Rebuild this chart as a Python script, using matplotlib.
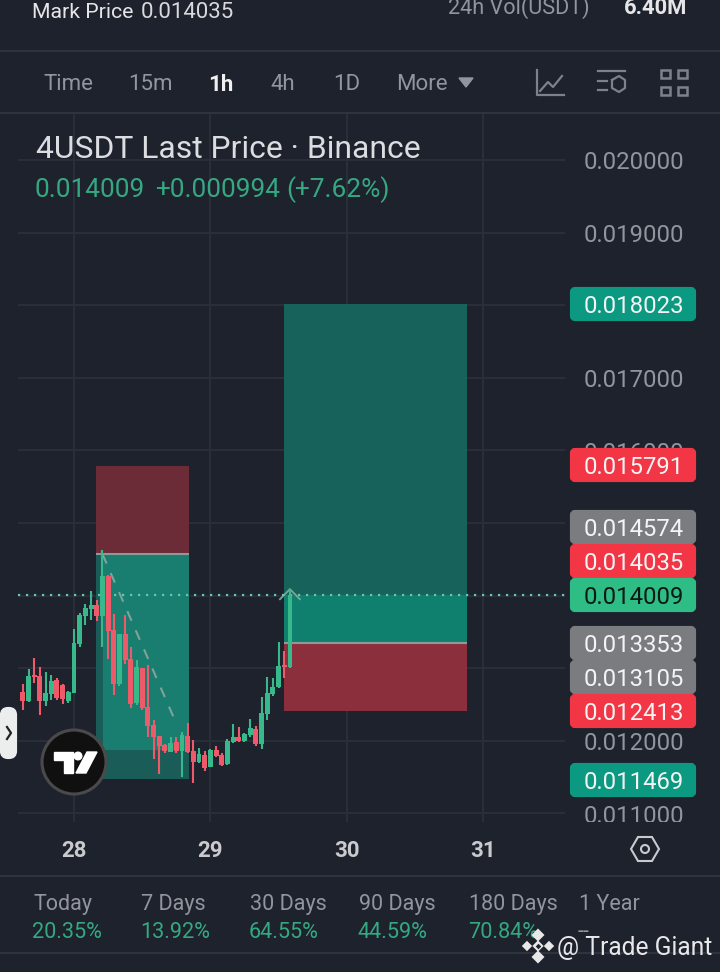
import numpy as np
from matplotlib import pyplot as plt
from matplotlib.patches import Rectangle, FancyBboxPatch, Circle, Polygon

plt.rcParams['font.family'] = ['Roboto', 'DejaVu Sans']

# hourly candles, first one is 9 hours before the 28th
opens = [0.012677, 0.012553, 0.012906, 0.012892, 0.012548, 0.012644, 0.012837, 0.012768,
         0.012553, 0.012663, 0.013333, 0.013719, 0.013815, 0.013871, 0.013719, 0.014270,
         0.013526, 0.012782, 0.013471, 0.013122, 0.012516, 0.012998, 0.012461, 0.012217,
         0.012066, 0.011942, 0.011850, 0.011979, 0.011864, 0.012070, 0.011859, 0.011712,
         0.011804, 0.011643, 0.011873, 0.011804, 0.011680, 0.011988, 0.012057, 0.012002,
         0.012080, 0.012167, 0.011956, 0.012369, 0.012644, 0.012736, 0.013044, 0.013012]
closes = [0.012553, 0.012892, 0.012883, 0.012548, 0.012654, 0.012828, 0.012585, 0.012571,
          0.012667, 0.013342, 0.013733, 0.013825, 0.013866, 0.013719, 0.014270, 0.013517,
          0.012782, 0.013471, 0.013113, 0.012507, 0.013012, 0.012456, 0.012204, 0.012057,
          0.011928, 0.011859, 0.011974, 0.011859, 0.012080, 0.011850, 0.011712, 0.011813,
          0.011620, 0.011873, 0.011790, 0.011666, 0.012002, 0.012057, 0.012002, 0.012089,
          0.012172, 0.011956, 0.012378, 0.012654, 0.012736, 0.013030, 0.013012, 0.014009]
highs = [0.012782, 0.012984, 0.013145, 0.013021, 0.012943, 0.012906, 0.012860, 0.012782,
         0.012690, 0.013540, 0.013765, 0.013884, 0.014063, 0.013939, 0.014628, 0.014284,
         0.013747, 0.013471, 0.013733, 0.013297, 0.013113, 0.012998, 0.013044, 0.012286,
         0.012066, 0.011956, 0.012048, 0.012057, 0.012126, 0.012250, 0.012011, 0.011896,
         0.011864, 0.011882, 0.011928, 0.011827, 0.012025, 0.012231, 0.012194, 0.012112,
         0.012296, 0.012204, 0.012599, 0.012874, 0.012860, 0.013365, 0.013241, 0.014086]
lows = [0.012424, 0.012539, 0.012791, 0.012355, 0.012484, 0.012562, 0.012562, 0.012507,
        0.012525, 0.012654, 0.013287, 0.013595, 0.013664, 0.013655, 0.013297, 0.013122,
        0.012631, 0.012755, 0.013058, 0.012447, 0.012493, 0.012424, 0.012048, 0.011744,
        0.011542, 0.011827, 0.011841, 0.011827, 0.011506, 0.011827, 0.011423, 0.011699,
        0.011588, 0.011634, 0.011772, 0.011653, 0.011666, 0.011974, 0.011979, 0.011988,
        0.012057, 0.011933, 0.011887, 0.012286, 0.012617, 0.012723, 0.012860, 0.012998]

price_ticks = [0.020, 0.019, 0.018, 0.017, 0.016, 0.015, 0.014, 0.013, 0.012, 0.011]
day_ticks = [28, 29, 30, 31]
last_price = 0.014009

# position boxes: start day, end day, stop, entry, target, price reached
long_left = [28.161, 28.843, 0.015791, 0.014574, 0.011469, 0.011873]
long_right = [29.540, 30.881, 0.012413, 0.013353, 0.018023, 0.014009]

tag_labels = ['0.018023', '0.015791', '0.014574', '0.014035', '0.014009',
              '0.013353', '0.013105', '0.012413', '0.011469']

periods = ['Today', '7 Days', '30 Days', '90 Days', '180 Days', '1 Year']
period_values = ['20.35%', '13.92%', '64.55%', '44.59%', '70.84%', '--']
intervals = ['Time', '15m', '1h', '4h', '1D', 'More']

BG = '#1e222d'
GRID = '#2a2e39'
GREEN = '#37b98b'
RED = '#ee5a6a'
TEXT_GREEN = '#35a882'
GREY = '#92959d'

fig = plt.figure(figsize=(7.2, 9.72), dpi=100, facecolor=BG)

# chart axes, x in days and y in price
ax = fig.add_axes([0, (972 - 822) / 972, 1, (822 - 113) / 972])
ax.set_xlim(27.4575, 32.7361)
ax.set_ylim(0.010882, 0.020647)
ax.axis('off')

left, right = 27.590, 31.600
ax.hlines(price_ticks, left, right, color=GRID, lw=1.5, zorder=1)
ax.vlines(day_ticks, 0.010882, 0.020647, color=GRID, lw=1.5, zorder=1)

for t in price_ticks:
    # small nudge down so the digits sit on the grid line
    lab = ax.annotate(f'{t:.6f}', (0.811, t), xytext=(0, -2), textcoords='offset points',
                      xycoords=ax.get_yaxis_transform(), color=GREY, fontsize=17.2,
                      va='center', ha='left', annotation_clip=False, zorder=2)
    lab.set_clip_on(True)
    lab.set_clip_box(ax.bbox)

# left box
x0, x1, stop, entry, target, reached = long_left
ax.fill_between([x0, x1], entry, stop, color='#6b2c38', lw=0, zorder=3)
ax.fill_between([x0, x1], target, entry, color='#1a5c58', lw=0, zorder=3)
ax.fill_between([x0 + 0.05, x1], reached, entry, color='#197d70', lw=0, zorder=3)
ax.hlines(entry, x0, x1, color='#8d9a98', lw=1.5, zorder=4)

# right box
x0, x1, stop, entry, target, reached = long_right
ax.fill_between([x0, x1], stop, entry, color='#8c2f3d', lw=0, zorder=3)
ax.fill_between([x0, x1], entry, target, color='#17635b', lw=0, zorder=3)
ax.fill_between([x0, x1], entry, reached, color='#0f7f6e', lw=0, zorder=3)
ax.hlines(entry, x0, x1, color='#8d9a98', lw=1.5, zorder=4)

# projected path on the left box and arrow on the last candle
ax.plot([28.208, 28.755], [0.014574, 0.012218], color='#7fa39b', lw=1.5, ls=(0, (5, 5)), zorder=5)
ax.plot([29.510, 29.583, 29.656], [0.013950, 0.014090, 0.013950], color='#7fa39b', lw=1.3, zorder=5)

ax.hlines(last_price, left, right, color='#62c9ad', lw=1.6, ls=(0, (1, 2.6)), zorder=5)

# candles
for i in range(len(opens)):
    day = 28 + (i - 9) / 24
    c = GREEN if closes[i] >= opens[i] else RED
    ax.vlines(day, lows[i], highs[i], color=c, lw=1.5, zorder=6)
    ax.bar(day, abs(closes[i] - opens[i]), bottom=min(opens[i], closes[i]), width=0.036,
           color=c, lw=0, zorder=6)

# everything else is app chrome, drawn in pixels
ui = fig.add_axes([0, 0, 1, 1], facecolor='none')
ui.set_xlim(0, 720)
ui.set_ylim(972, 0)
ui.axis('off')

for y in [51, 113, 876, 953]:
    ui.plot([0, 720], [y, y], color='#2f333e', lw=1.5)

ui.text(32, 13, 'Mark Price', color='#e6e6e8', fontsize=15.3, va='center')
ui.text(141, 13, '0.014035', color='#d8d9dc', fontsize=16, va='center')
ui.text(448, 8, '24h Vol(USDT)', color=GREY, fontsize=15.6, va='center')
ui.text(624, 8, '6.40M', color='#e6e6e8', fontsize=15.8, va='center', fontweight='bold')

for name, x in zip(intervals, [43, 128, 208, 270, 333, 396]):
    active = name == '1h'
    ui.text(x, 85, name, color='#f0f0f0' if active else GREY, fontsize=16, va='center',
            fontweight='bold' if active else 'normal')
ui.add_patch(Polygon([(459, 78), (473, 78), (466, 87)], color=GREY))

# toolbar icons
ui.plot([537, 537, 564], [70, 95, 95], color='#7d818a', lw=1.6)
ui.plot([540, 548, 553, 562], [91, 82, 87, 76], color='#7d818a', lw=1.6)
ui.plot([598, 625], [71, 71], color='#7d818a', lw=1.6)
ui.plot([598, 607], [81, 81], color='#7d818a', lw=1.6)
ui.plot([598, 607], [90, 90], color='#7d818a', lw=1.6)
ui.plot([612, 619, 625, 625, 619, 612, 612], [80, 76, 80, 88, 92, 88, 80], color='#7d818a', lw=1.6)
for x in [661, 678]:
    for y in [70, 87]:
        ui.add_patch(Rectangle((x, y), 9, 8, fill=False, ec='#7d818a', lw=1.8))

ui.text(36, 149, '4USDT Last Price · Binance', color='#dcdde0', fontsize=22.95, va='center')
ui.text(35, 190, '0.014009', color=TEXT_GREEN, fontsize=18.9, va='center')
ui.text(155, 190, '+0.000994', color=TEXT_GREEN, fontsize=18.9, va='center')
ui.text(286, 190, '(+7.62%)', color=TEXT_GREEN, fontsize=18.9, va='center')

# price tags on the right
tag_y = [304, 465, 527, 561, 595, 643, 677, 711, 780]
tag_colors = ['#0b9981', '#f23645', '#7b7c80', '#f23645', '#2ebd85', '#7b7c80', '#7b7c80', '#f23645', '#0b9981']
for label, y, c in zip(tag_labels, tag_y, tag_colors):
    ui.add_patch(FancyBboxPatch((572, y - 15), 122, 30, boxstyle='round,pad=0,rounding_size=3',
                                fc=c, ec=c, lw=3))
    ui.text(584, y + 2.5, label, color='#0c1a16' if label == '0.014009' else '#f4f4f4',
            fontsize=17.2, va='center')

for d in day_ticks:
    x = ax.transData.transform((d, 0.015))[0]
    ui.text(x, 851, str(d), color='#c9cacd', fontsize=16, fontweight='bold', ha='center', va='center')

# hexagon settings button
ui.add_patch(Polygon([(631, 849), (638, 837), (652, 837), (659, 849), (652, 861), (638, 861)],
                     fill=False, ec='#c9cacd', lw=1.5))
ui.add_patch(Circle((645, 849), 4, fill=False, ec='#c9cacd', lw=1.5))

# side handle and logo
ui.add_patch(FancyBboxPatch((2, 709), 13, 48, boxstyle='round,pad=0,rounding_size=6',
                            fc='#eceded', ec='#eceded', lw=3))
ui.plot([7, 11, 7], [727, 733, 739], color='#222', lw=1.6)
ui.add_patch(Circle((74, 762), 32, fc='#101010', ec='#4a4a4a', lw=2.2))
ui.add_patch(Polygon([(54, 752), (73, 752), (73, 773), (64, 773), (64, 760), (54, 760)], color='white'))
ui.add_patch(Circle((78, 756), 3.8, color='white'))
ui.add_patch(Polygon([(87, 752), (97, 752), (86, 773), (76, 773)], color='white'))

# period stats
stat_x = [33, 141, 250, 359, 469, 579]
for name, val, x in zip(periods, period_values, stat_x):
    ui.text(x, 904, name, color=GREY, fontsize=15.5, va='center')
    ui.text(x - 1, 932, val, color=TEXT_GREEN if val != '--' else GREY, fontsize=15.6, va='center')

# watermark
ui.scatter([538, 527, 549, 538, 538], [946, 946, 946, 935, 957], marker='D', s=[34, 28, 28, 44, 44],
           color='#e8e8e8', lw=0, zorder=8)
ui.scatter([538], [946], marker='D', s=8, color=BG, lw=0, zorder=9)
ui.text(557, 948, '@ Trade Giant', color='#e8e8ea', fontsize=17.7, va='center', zorder=8)

fig.savefig('out.png', dpi=100, facecolor=BG)
